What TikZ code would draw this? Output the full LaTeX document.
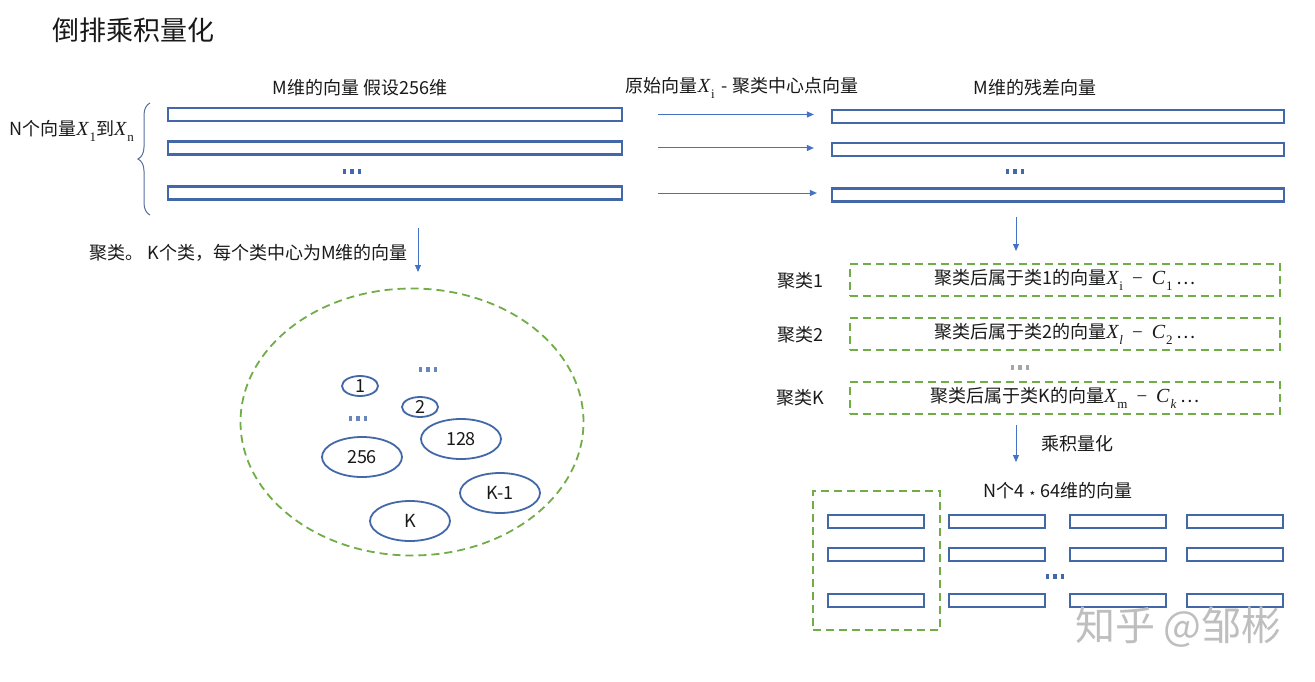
\documentclass[tikz,border=0pt]{standalone}
\usepackage{fontspec}
\setmainfont{Noto Sans CJK SC}
\newfontfamily\mserif{Liberation Serif}
\newfontfamily\djv{DejaVu Sans}
\usetikzlibrary{arrows.meta,decorations.pathreplacing,shapes.geometric}
\definecolor{rectblue}{RGB}{66,104,168}
\definecolor{arrowblue}{RGB}{68,114,196}
\definecolor{dgreen}{RGB}{112,173,71}
\definecolor{wmgray}{RGB}{190,190,190}
\definecolor{txt}{RGB}{25,25,25}
\newcommand{\sqdots}[1]{\textcolor{#1}{\rule{3.5pt}{5pt}\hspace{4pt}\rule{3.5pt}{5pt}\hspace{4pt}\rule{3.5pt}{5pt}}}
\newcommand{\symb}[2]{{\fontsize{20}{20}\selectfont\mserif\itshape #1\kern1pt}\raisebox{-0.3em}{\fontsize{13}{14}\selectfont\mserif #2}}
\newcommand{\symbi}[2]{{\fontsize{20}{20}\selectfont\mserif\itshape #1\kern1pt}\raisebox{-0.3em}{\fontsize{13}{14}\selectfont\mserif\itshape #2}}
\newcommand{\mminus}{\enspace{\mserif\fontsize{19}{19}\selectfont −}\enspace}
\begin{document}
\begin{tikzpicture}[x=1pt,y=-1pt,
  lbl/.style={font=\fontsize{18}{20}\selectfont, inner sep=0pt, text=txt},
  vrect/.style={draw=rectblue, line width=2.2pt, minimum width=#1, minimum height=13pt, inner sep=0pt},
  grect/.style={draw=dgreen, line width=1.8pt, dash pattern=on 8pt off 5pt, minimum width=430pt, minimum height=32pt, inner sep=0pt, font=\fontsize{18}{20}\selectfont, text=txt},
  cl/.style={ellipse, draw=rectblue, line width=1.8pt, inner sep=0pt, font=\fontsize{18}{20}\selectfont, text=txt},
  arr/.style={draw=arrowblue, line width=1pt, -{Triangle[length=7pt,width=6pt]}},
  dotn/.style={inner sep=0pt}
]
\useasboundingbox (0,0) rectangle (1315,682);

% title
\node[lbl, font=\fontsize{27}{29}\selectfont, anchor=west] (title) at (52,30) {倒排乘积量化};

% left vectors
\node[lbl] (lhead) at (360,88) {M维的向量 假设256维};
\node[vrect=454pt] (L1) at (395,114.5) {};
\node[vrect=454pt] (L2) at (395,148) {};
\node[vrect=454pt] (L3) at (395,193) {};
\node[dotn] (Ld) at (352,172) {\sqdots{rectblue}};
\coordinate (brT) at (150,103);
\coordinate (brB) at (150,215);
\draw[draw=rectblue!70!gray, line width=1pt, decorate, decoration={brace, amplitude=12pt}] (brB) -- (brT);
\node[lbl, anchor=east] (nlab) at (134,131) {N个向量\symb{X}{1}到\symb{X}{n}};

% right vectors
\node[lbl] (mid) at (742,88) {原始向量\symb{X}{i}\, - 聚类中心点向量};
\node[lbl] (rhead) at (1035,88) {M维的残差向量};
\node[vrect=452pt] (R1) at (1058,116.5) {};
\node[vrect=452pt] (R2) at (1058,149.5) {};
\node[vrect=452pt] (R3) at (1058,195) {};
\node[dotn] (Rd) at (1015,172) {\sqdots{rectblue}};

\draw[arr, shorten <=35pt, shorten >=17pt] (L1.east) -- (L1.east -| R1.west);
\draw[arr, shorten <=35pt, shorten >=17pt] (L2.east) -- (L2.east -| R2.west);
\draw[arr, shorten <=35pt, shorten >=14pt] (L3.east) -- (L3.east -| R3.west);

% clustering
\node[lbl, anchor=east] (clab) at (408,253) {聚类。 K个类，每个类中心为M维的向量};
\coordinate (a1s) at (418,228);
\node[ellipse, draw=dgreen, line width=1.8pt, dash pattern=on 8pt off 5pt, minimum width=343pt, minimum height=267pt, inner sep=0pt] (E) at (412,422) {};
\draw[arr] (a1s) -- (a1s |- 0,272);

\node[cl, minimum width=36pt, minimum height=20pt] (c1) at (360,386) {1};
\node[cl, minimum width=36pt, minimum height=20pt] (c2) at (420,407) {2};
\node[cl, minimum width=80pt, minimum height=40pt] (c128) at (461,439) {128};
\node[cl, minimum width=80pt, minimum height=40pt] (c256) at (362,457) {256};
\node[cl, minimum width=80pt, minimum height=40pt] (ck1) at (500,493) {K-1};
\node[cl, minimum width=80pt, minimum height=40pt] (ck) at (410,521) {K};
\node[dotn] (ed1) at (428,369) {\sqdots{rectblue!80}};
\node[dotn] (ed2) at (358,418) {\sqdots{rectblue!80}};

% right: clusters of residuals
\coordinate (a2s) at (1016,217);
\node[grect] (G1) at (1065,280) {聚类后属于类1的向量\symb{X}{i}\mminus\symb{C}{1} \ldots};
\node[grect] (G2) at (1065,334) {聚类后属于类2的向量\symbi{X}{l}\mminus\symb{C}{2} \ldots};
\node[grect] (GK) at (1065,398) {聚类后属于类K的向量\symb{X}{m}\mminus\symbi{C}{k} \ldots};
\draw[arr] (a2s) -- (a2s |- 0,251);
\node[lbl] (g1l) at (800,281) {聚类1};
\node[lbl] (g2l) at (800,335) {聚类2};
\node[lbl] (gkl) at (800,398) {聚类K};
\node[dotn] (Gd) at (1020,367) {\sqdots{gray!70}};

\coordinate (a3s) at (1016,425);
\draw[arr] (a3s) -- (a3s |- 0,462);
\node[lbl] (pq) at (1077,444) {乘积量化};

% product-quantized sub-vectors
\node[lbl] (nhead) at (1058,491) {N个4 {\djv\fontsize{13}{14}\selectfont ⋆} 64维的向量};
\node[draw=dgreen, line width=1.8pt, dash pattern=on 8pt off 5pt, minimum width=127pt, minimum height=139pt, inner sep=0pt] (S) at (876.5,560.5) {};
\foreach \c/\x in {a/876,b/997,c/1118,d/1235}{
  \foreach \r/\y in {1/521.5,2/554.5,3/600.5}{
    \node[vrect=96pt] (s\c\r) at (\x,\y) {};
  }
}
\node[dotn] (Sd) at (1055,576) {\sqdots{rectblue}};

% watermark
\node[inner sep=0pt, text=wmgray, font=\fontsize{40}{42}\selectfont, anchor=east] (wm) at (1282,627) {知乎 @邹彬};
\end{tikzpicture}
\end{document}
